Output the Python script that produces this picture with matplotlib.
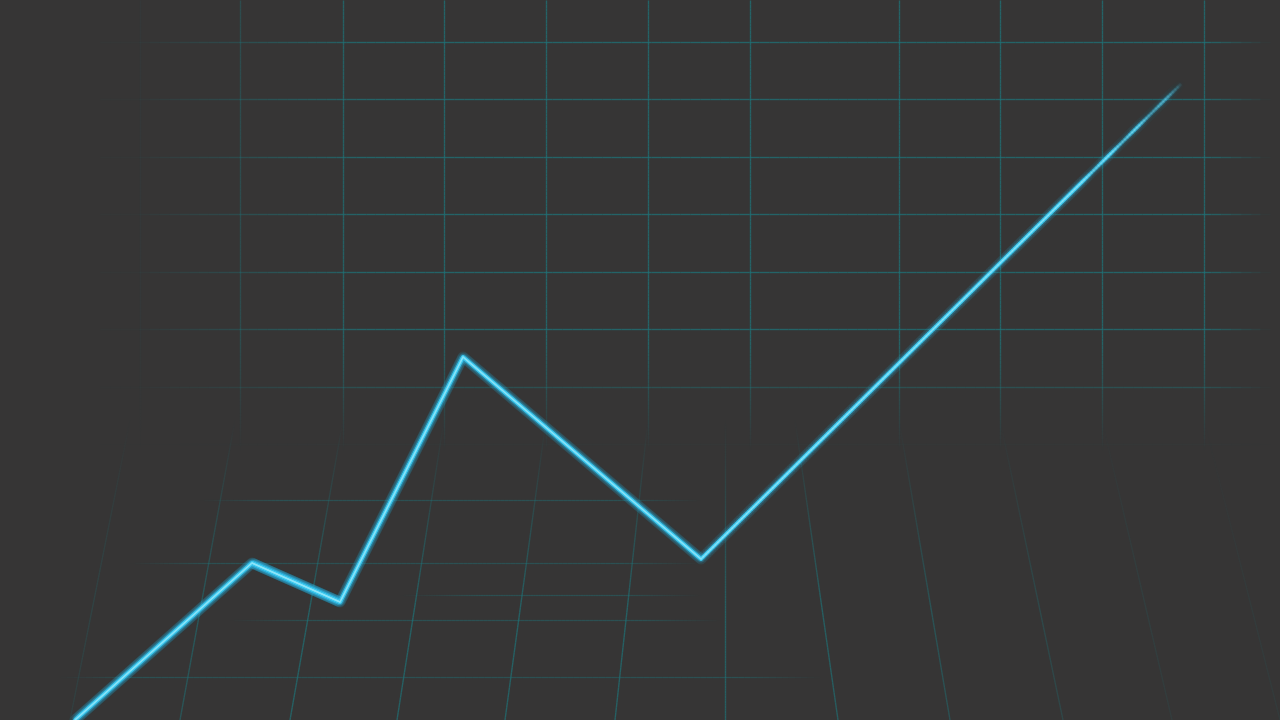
import numpy as np
import matplotlib.pyplot as plt
from matplotlib.collections import LineCollection
from matplotlib.colors import to_rgba

# glowing trend line (pixel-like units, y measured up from bottom)
trend_x = [75, 252, 340, 463, 701, 1180]
trend_y = [0, 157, 118, 363, 161, 635]

# back wall grid
wall_vx = [140, 240, 343, 444, 546, 648, 750, 899, 1000, 1102, 1204]
wall_hy = [678, 621, 563, 506, 448, 391, 333, 276]

# floor grid: where each floor line meets the wall and the bottom edge
floor_top = [130, 235, 343, 444, 546, 648, 725, 795, 899, 1000, 1102, 1204]
floor_bot = [70, 180, 290, 397, 505, 615, 725, 838, 950, 1063, 1172, 1280]
floor_hy = [220, 157, 125, 100, 43]
floor_x0 = [200, 130, 400, 230, 60]
floor_x1 = [700, 700, 700, 720, 820]

W, H = 1280, 720
bg = "#363535"
grid_c = "#1f7378"

fig = plt.figure(figsize=(12.8, 7.2), dpi=100)
fig.patch.set_facecolor(bg)
ax = fig.add_axes([0, 0, 1, 1])
ax.set_facecolor(bg)
ax.set_xlim(0, W)
ax.set_ylim(0, H)
ax.axis("off")


def faded(x0, y0, x1, y1, afunc, lw, color, n=120):
    t = np.linspace(0, 1, n + 1)
    xs = x0 + (x1 - x0) * t
    ys = y0 + (y1 - y0) * t
    segs = [[(xs[i], ys[i]), (xs[i + 1], ys[i + 1])] for i in range(n)]
    base = to_rgba(color)
    cols = []
    for i in range(n):
        a = afunc((xs[i] + xs[i + 1]) / 2, (ys[i] + ys[i + 1]) / 2)
        cols.append((base[0], base[1], base[2], max(0, min(1, a))))
    ax.add_collection(LineCollection(segs, colors=cols, linewidths=lw))


def wall_alpha(x, y):
    a = 0.75
    a *= np.clip((x - 120) / 240, 0.06, 1)
    a *= np.clip((1270 - x) / 60, 0, 1)
    a *= np.clip((y - 270) / 110, 0, 1)
    return a


for x in wall_vx:
    faded(x, 270, x, H, wall_alpha, 1.0, grid_c)
for y in wall_hy:
    faded(100, y, W, y, wall_alpha, 1.0, grid_c)


def floor_alpha(x, y):
    a = 0.7 * np.clip((300 - y) / 190, 0, 1)
    a *= np.clip((x - 20) / 220, 0.15, 1)
    a *= np.clip((1250 - x) / 450, 0.15, 1)
    return a


for tx, bx in zip(floor_top, floor_bot):
    faded(bx, 0, tx, 300, floor_alpha, 1.0, grid_c)
for y, x0, x1 in zip(floor_hy, floor_x0, floor_x1):
    faded(x0, y, x1, y, lambda x, yy: 0.45 * np.clip((x - x0) / 80, 0, 1) * np.clip((x1 - x) / 80, 0, 1),
          0.9, grid_c)

# glowing line, fading towards its tip
px, py = [], []
for i in range(len(trend_x) - 1):
    n = 200
    px.extend(np.linspace(trend_x[i], trend_x[i + 1], n, endpoint=False))
    py.extend(np.linspace(trend_y[i], trend_y[i + 1], n, endpoint=False))
px.append(trend_x[-1])
py.append(trend_y[-1])
px = np.array(px)
py = np.array(py)
segs = np.stack([np.column_stack([px[:-1], py[:-1]]), np.column_stack([px[1:], py[1:]])], axis=1)
mid = (px[:-1] + px[1:]) / 2
fade = np.clip((1190 - mid) / 110, 0, 1) ** 0.8
fade = np.where(mid < 1080, 1.0, fade * (0.55 + 0.45 * np.cos((mid - 1080) / 9.0) ** 2))

for lw, a, c in [(8, 0.06, "#2ab8e6"), (5, 0.12, "#2ab8e6"),
                 (2.7, 1.0, "#3cc8ee"), (1.1, 0.8, "#8ee6fa")]:
    base = to_rgba(c)
    cols = [(base[0], base[1], base[2], a * f) for f in fade]
    ax.add_collection(LineCollection(segs, colors=cols, linewidths=lw, capstyle="round", joinstyle="round"))

plt.savefig("out.png", dpi=100, facecolor=bg)
